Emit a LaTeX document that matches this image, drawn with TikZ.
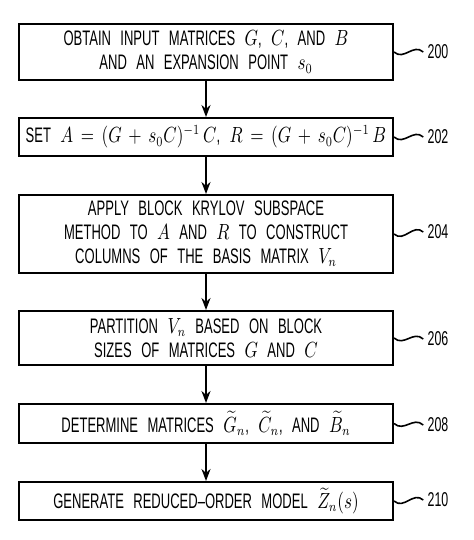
\documentclass[tikz,border=0pt]{standalone}
\usepackage{fontspec}
\usepackage{graphicx}
\setmainfont{Liberation Sans}[FakeStretch=0.62]
\usetikzlibrary{arrows.meta}

\newcommand\boxfont{\fontsize{10.5}{12}\selectfont\spaceskip=0.45em plus 0.1em\relax}
\newcommand\mth[1]{\scalebox{0.78}[1]{$#1$}}

\tikzset{
  stepbox/.style={draw, line width=1pt, minimum width=187pt, inner sep=0pt,
    align=center, font=\boxfont},
  flow/.style={-{Stealth[length=6pt,width=4.5pt]}, line width=1pt},
  lead/.style={line width=0.8pt},
  refnum/.style={inner sep=2pt, font=\fontsize{10}{12}\selectfont},
}

\begin{document}
\begin{tikzpicture}[x=0.5pt, y=-0.5pt]
  \useasboundingbox (0,0) rectangle (474,540);
  % process steps
  \node[stepbox, minimum height=28pt] (s200) at (206,52)
    {OBTAIN INPUT MATRICES \mth{G}, \mth{C}, AND \mth{B}\\AND AN EXPANSION POINT \mth{s_0}};
  \node[stepbox, minimum height=19pt] (s202) at (206,137)
    {SET \mth{A \,=\, (G \,+\, s_0C)^{-1}\,C}, \mth{R \,=\, (G \,+\, s_0C)^{-1}\,B}};
  \node[stepbox, minimum height=39pt] (s204) at (206,234)
    {APPLY BLOCK KRYLOV SUBSPACE\\METHOD TO \mth{A} AND \mth{R} TO CONSTRUCT\\COLUMNS OF THE BASIS MATRIX \mth{V_n}};
  \node[stepbox, minimum height=27pt] (s206) at (206,338)
    {PARTITION \mth{V_n} BASED ON BLOCK\\SIZES OF MATRICES \mth{G} AND \mth{C}};
  \node[stepbox, minimum height=19.5pt] (s208) at (206,423.5)
    {DETERMINE MATRICES \mth{\widetilde{G}_n}, \mth{\widetilde{C}_n}, AND \mth{\widetilde{B}_n}};
  \node[stepbox, minimum height=19pt] (s210) at (206,501)
    {GENERATE REDUCED--ORDER MODEL \mth{\widetilde{Z}_n(s)}};

  % reference numerals
  \node[refnum] (n200) at (438,52) {200};
  \node[refnum] (n202) at (438,137) {202};
  \node[refnum] (n204) at (438,232) {204};
  \node[refnum] (n206) at (438,339) {206};
  \node[refnum] (n208) at (438,425) {208};
  \node[refnum] (n210) at (438,500) {210};

  % arrows
  \draw[flow] (s200) -- (s202);
  \draw[flow] (s202) -- (s204);
  \draw[flow] (s204) -- (s206);
  \draw[flow] (s206) -- (s208);
  \draw[flow] (s208) -- (s210);

  % leaders
  \foreach \s in {200,202,204,206,208,210}
    \draw[lead] (s\s.east) .. controls +(10,9) and +(-10,-9) .. (n\s.west);
\end{tikzpicture}
\end{document}
